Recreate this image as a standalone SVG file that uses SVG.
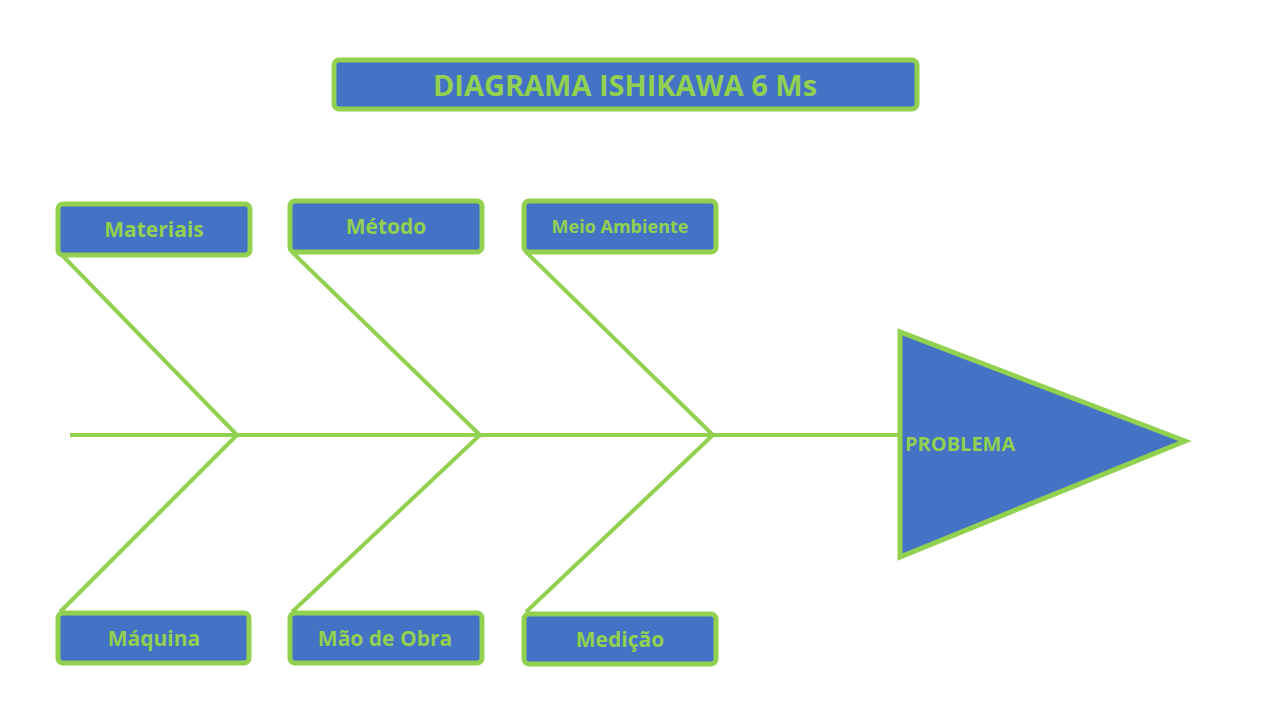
<svg xmlns="http://www.w3.org/2000/svg" width="1280" height="720" viewBox="0 0 1280 720">
<style>
.box{fill:#4472C4;stroke:#92D050;stroke-width:5}
.t{fill:#92D050;font-family:"Open Sans","Liberation Sans",sans-serif;font-weight:bold;text-anchor:middle}
.ln{stroke:#92D050;stroke-width:4;fill:none}
</style>
<rect width="1280" height="720" fill="#fff"/>
<g id="connectors">
<line class="ln" x1="70" y1="435" x2="900" y2="435"/>
<polyline class="ln" points="62,255 237,435 60,612"/>
<polyline class="ln" points="292,252 480,435 292,612"/>
<polyline class="ln" points="526,252 713,435 526,612"/>
</g>
<g id="title"><rect class="box" x="334" y="60" width="583" height="49" rx="5"/><text class="t" x="625" y="96" font-size="29">DIAGRAMA ISHIKAWA 6 Ms</text></g>
<g id="materiais"><rect class="box" x="58" y="204" width="192" height="51" rx="5"/><text class="t" x="154" y="237" font-size="21">Materiais</text></g>
<g id="metodo"><rect class="box" x="290" y="201" width="192" height="51" rx="5"/><text class="t" x="386" y="234" font-size="21">Método</text></g>
<g id="meio"><rect class="box" x="524" y="201" width="192" height="51" rx="5"/><text class="t" x="620" y="233" font-size="18">Meio Ambiente</text></g>
<g id="maquina"><rect class="box" x="58" y="613" width="191" height="50" rx="5"/><text class="t" x="154" y="646" font-size="21">Máquina</text></g>
<g id="maodeobra"><rect class="box" x="290" y="613" width="192" height="50" rx="5"/><text class="t" x="385" y="646" font-size="21">Mão de Obra</text></g>
<g id="medicao"><rect class="box" x="524" y="614" width="192" height="50" rx="5"/><text class="t" x="620" y="647" font-size="21">Medição</text></g>
<g id="problema"><polygon class="box" points="900,332 900,557 1185,441"/><text class="t" x="905" y="451" font-size="20" text-anchor="start" style="text-anchor:start">PROBLEMA</text></g>
</svg>
